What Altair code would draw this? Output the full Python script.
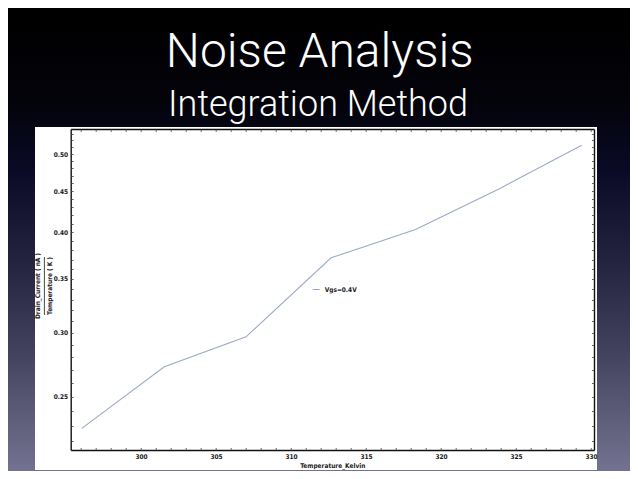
import altair as alt
import pandas as pd

# ---- data ----
temperature_k = [296.05, 301.55, 307.0, 312.67, 318.3, 323.93, 329.38]
current_ratio = [0.2284, 0.2723, 0.2967, 0.3718, 0.4032, 0.4533, 0.5130]
series_name = "Vgs=0.4V"

x_tick_values = list(range(296, 331))
y_tick_values = [round(0.22 + 0.01 * i, 2) for i in range(32)]

title_text = "Noise Analysis"
subtitle_text = "Integration Method"
x_title = "Temperature_Kelvin"
y_title_num = "Drain_Current ( nA )"
y_title_den = "Temperature ( K )"

# ---- layout ----
W, H = 523.3, 321
PL, PT, PR, PB = 62.7, 121, 36, 21
TICK = 2.5
LFONT = "'DejaVu Sans Condensed', 'Liberation Sans Narrow', 'Liberation Sans', sans-serif"
LINE_COLOR = "#9aaac6"
INK = "#1a1a1a"

df = pd.DataFrame({"T": temperature_k, "R": current_ratio,
                   "S": [series_name] * len(temperature_k)})
one = pd.DataFrame({"k": [0]})

xs = alt.Scale(domain=[295.31, 330.2], nice=False, zero=False)
ys = alt.Scale(type="log", domain=[0.2147, 0.5373], nice=False)

x_label_expr = "datum.value % 5 === 0 ? datum.label : ''"
y_label_expr = "abs(datum.value * 20 - round(datum.value * 20)) < 0.01 ? format(datum.value, '.2f') : ''"

bg = alt.Chart(one).mark_rect(
    fill=alt.Gradient(
        gradient="linear", x1=0, x2=0, y1=0, y2=1,
        stops=[
            alt.GradientStop(offset=0.0, color="#000000"),
            alt.GradientStop(offset=0.2, color="#03030a"),
            alt.GradientStop(offset=0.35, color="#0a0a26"),
            alt.GradientStop(offset=0.544, color="#23233f"),
            alt.GradientStop(offset=0.738, color="#42415d"),
            alt.GradientStop(offset=1.0, color="#737290"),
        ],
    )
).encode(x=alt.value(-PL), x2=alt.value(W + PR), y=alt.value(-PT), y2=alt.value(H + PB))

panel = alt.Chart(one).mark_rect(fill="white").encode(
    x=alt.value(-35.7), x2=alt.value(526.3), y=alt.value(-2), y2=alt.value(341)
)


def frame_axis(orient):
    return alt.Axis(orient=orient, domain=True, ticks=False, labels=False, title=None,
                    grid=False, domainColor="#111111", domainWidth=1.4, zindex=1)


def tick_axis(orient):
    return alt.Axis(orient=orient, domain=False, labels=False, title=None, grid=False,
                    offset=-TICK, tickSize=TICK, tickColor="#444444", tickWidth=0.8,
                    values=(x_tick_values if orient in ("top", "bottom") else y_tick_values),
                    zindex=1)


frame1 = alt.Chart(df).mark_point(opacity=0).encode(
    x=alt.X("T:Q", scale=xs, axis=frame_axis("bottom")),
    y=alt.Y("R:Q", scale=ys, axis=frame_axis("left")),
)
frame2 = alt.Chart(df).mark_point(opacity=0).encode(
    x=alt.X("T:Q", scale=xs, axis=frame_axis("top")),
    y=alt.Y("R:Q", scale=ys, axis=frame_axis("right")),
)
ticks2 = alt.Chart(df).mark_point(opacity=0).encode(
    x=alt.X("T:Q", scale=xs, axis=tick_axis("top")),
    y=alt.Y("R:Q", scale=ys, axis=tick_axis("right")),
)

line = alt.Chart(df).mark_line(strokeWidth=1.1).encode(
    x=alt.X("T:Q", scale=xs, axis=alt.Axis(
        orient="bottom", values=x_tick_values, labelExpr=x_label_expr, domain=False,
        offset=-TICK, tickSize=TICK, tickColor="#444444", tickWidth=0.8, grid=False,
        labelFont=LFONT, labelFontSize=6.5, labelFontWeight="bold", labelColor=INK,
        labelPadding=3, labelOverlap=False, labelFlush=False,
        title=x_title, titleFont=LFONT, titleFontSize=6.5, titleFontWeight="bold",
        titleColor=INK, titlePadding=3, zindex=1)),
    y=alt.Y("R:Q", scale=ys, axis=alt.Axis(
        orient="left", values=y_tick_values, labelExpr=y_label_expr, domain=False,
        offset=-TICK, tickSize=TICK, tickColor="#444444", tickWidth=0.8, grid=False,
        labelFont=LFONT, labelFontSize=6.5, labelFontWeight="bold", labelColor=INK,
        labelPadding=3, labelOverlap=False, labelFlush=False, title=None, zindex=1)),
    color=alt.Color("S:N", scale=alt.Scale(range=[LINE_COLOR]), legend=alt.Legend(
        orient="none", legendX=241, legendY=156, title=None, symbolType="stroke",
        symbolSize=50, symbolStrokeWidth=1, labelFont=LFONT, labelFontSize=6.5,
        labelFontWeight="bold", labelColor=INK, labelOffset=4, padding=0, zindex=1)),
)

title = alt.Chart(one).mark_text(
    text=title_text, font="Roboto", fontWeight=300, fontSize=48, color="white",
    align="center", baseline="alphabetic"
).encode(x=alt.value(249), y=alt.value(-62))

subtitle = alt.Chart(one).mark_text(
    text=subtitle_text, font="Roboto", fontWeight=300, fontSize=36, color="white",
    align="center", baseline="alphabetic"
).encode(x=alt.value(247.3), y=alt.value(-13))

ynum = alt.Chart(one).mark_text(
    text=y_title_num, font=LFONT, fontSize=6.5, fontWeight="bold", color=INK,
    angle=270, align="center", baseline="middle"
).encode(x=alt.value(-32.3), y=alt.value(157))

yden = alt.Chart(one).mark_text(
    text=y_title_den, font=LFONT, fontSize=6.5, fontWeight="bold", color=INK,
    angle=270, align="center", baseline="middle"
).encode(x=alt.value(-20.3), y=alt.value(157))

ybar = alt.Chart(one).mark_rule(color=INK, strokeWidth=0.8).encode(
    x=alt.value(-26.3), y=alt.value(128), y2=alt.value(186)
)

chart = alt.layer(
    bg, panel, frame1, frame2, ticks2, line, title, subtitle, ynum, yden, ybar
).resolve_axis(x="independent", y="independent").properties(
    width=W, height=H,
    autosize=alt.AutoSizeParams(type="none"),
    padding={"left": PL, "top": PT, "right": PR, "bottom": PB},
    background="#000000",
).configure_view(strokeWidth=0)

chart.save("out.html", embed_options={"renderer": "svg", "actions": False})
